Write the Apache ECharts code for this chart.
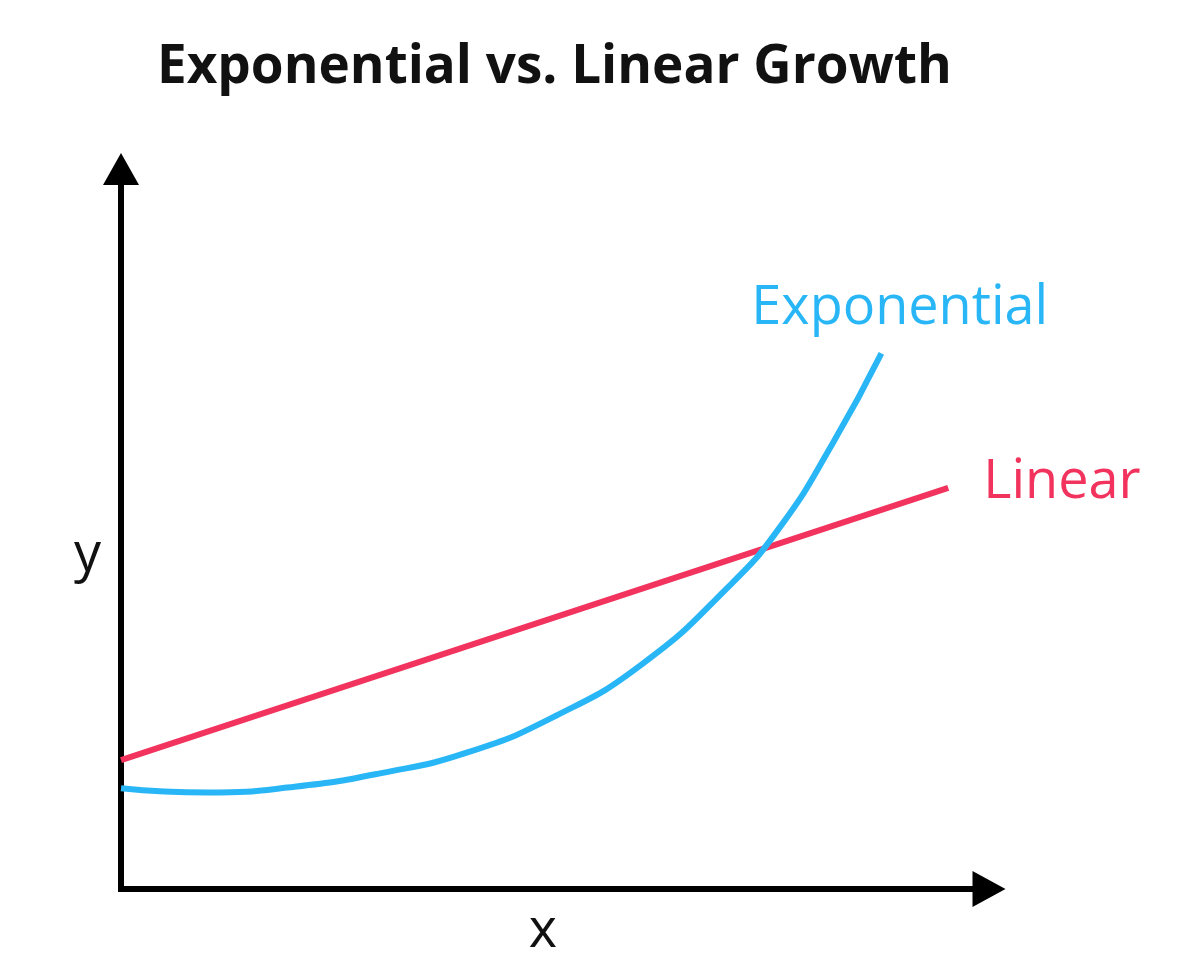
<!DOCTYPE html>
<html>
<head>
<meta charset="utf-8">
<script src="https://cdn.jsdelivr.net/npm/echarts@6/dist/echarts.min.js"></script>
<style>
  html, body { margin: 0; padding: 0; background: #fff; }
  #main { width: 1181px; height: 964px; }
</style>
</head>
<body>
<div id="main"></div>
<script>
// values (arbitrary units, 0-10 on both axes)
var linearX = [0, 9.53];
var linearY = [1.79, 5.57];
var expX = [0, 1, 2, 3, 4, 5, 6, 7, 7.6, 8.2, 8.76];
var expY = [1.40, 1.34, 1.42, 1.61, 1.90, 2.40, 3.12, 4.20, 5.04, 6.19, 7.44];

function pairs(xs, ys) {
  var out = [];
  for (var i = 0; i < xs.length; i++) out.push([xs[i], ys[i]]);
  return out;
}

var chart = echarts.init(document.getElementById('main'));

var option = {
  backgroundColor: '#fff',
  animation: false,
  title: {
    text: 'Exponential vs. Linear Growth',
    left: 152,
    top: 36,
    textStyle: {
      fontFamily: 'Open Sans',
      fontWeight: 'bold',
      fontSize: 53,
      color: '#111'
    }
  },
  grid: {
    left: 121,
    right: 192,
    top: 169,
    bottom: 75,
    containLabel: false
  },
  xAxis: {
    type: 'value',
    min: 0,
    max: 10,
    name: 'x',
    nameLocation: 'middle',
    nameGap: 16,
    nameTextStyle: {
      fontFamily: 'Open Sans',
      fontSize: 54,
      color: '#111',
      padding: [0, 24, 0, 0]
    },
    axisLine: {
      show: true,
      symbol: ['none', 'triangle'],
      symbolSize: [36, 33],
      lineStyle: { color: '#000', width: 6, cap: 'square' }
    },
    axisTick: { show: false },
    axisLabel: { show: false },
    splitLine: { show: false }
  },
  yAxis: {
    type: 'value',
    min: 0,
    max: 10,
    name: 'y',
    nameLocation: 'middle',
    nameRotate: 0,
    nameGap: 20,
    nameTextStyle: {
      fontFamily: 'Open Sans',
      fontSize: 54,
      color: '#111',
      verticalAlign: 'top'
    },
    axisLine: {
      show: true,
      symbol: ['none', 'triangle'],
      symbolSize: [36, 32],
      lineStyle: { color: '#000', width: 6, cap: 'square' }
    },
    axisTick: { show: false },
    axisLabel: { show: false },
    splitLine: { show: false }
  },
  series: [
    {
      name: 'Linear',
      type: 'line',
      data: pairs(linearX, linearY),
      symbol: 'none',
      lineStyle: { color: '#f2335d', width: 6 },
      endLabel: {
        show: true,
        formatter: 'Linear',
        distance: 35,
        offset: [0, -5],
        fontFamily: 'Open Sans',
        fontSize: 54,
        color: '#f2335d'
      }
    },
    {
      name: 'Exponential',
      type: 'line',
      data: pairs(expX, expY),
      smooth: 0.5,
      symbol: 'none',
      lineStyle: { color: '#29b6f6', width: 6 },
      endLabel: {
        show: true,
        formatter: 'Exponential',
        distance: 14,
        offset: [-144, -45],
        fontFamily: 'Open Sans',
        fontSize: 54,
        color: '#29b6f6'
      }
    }
  ]
};

chart.setOption(option);
</script>
</body>
</html>
